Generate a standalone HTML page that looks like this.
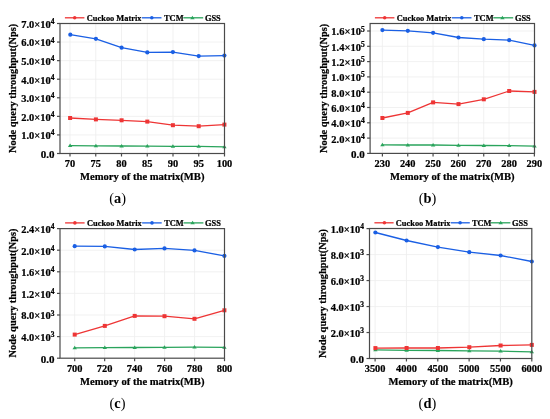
<!DOCTYPE html>
<html><head><meta charset="utf-8"><style>
html,body{margin:0;padding:0;background:#fff;}
svg{display:block;}
text{stroke:#000;stroke-width:0.22px;}
</style></head><body>
<svg width="550" height="419" viewBox="0 0 550 419">
<rect width="550" height="419" fill="#fff"/>
<line x1="70" y1="23.5" x2="70" y2="153.5" stroke="#eeeeee" stroke-width="0.8"/>
<line x1="95.75" y1="23.5" x2="95.75" y2="153.5" stroke="#eeeeee" stroke-width="0.8"/>
<line x1="121.5" y1="23.5" x2="121.5" y2="153.5" stroke="#eeeeee" stroke-width="0.8"/>
<line x1="147.25" y1="23.5" x2="147.25" y2="153.5" stroke="#eeeeee" stroke-width="0.8"/>
<line x1="173" y1="23.5" x2="173" y2="153.5" stroke="#eeeeee" stroke-width="0.8"/>
<line x1="198.75" y1="23.5" x2="198.75" y2="153.5" stroke="#eeeeee" stroke-width="0.8"/>
<line x1="224.5" y1="23.5" x2="224.5" y2="153.5" stroke="#eeeeee" stroke-width="0.8"/>
<line x1="60" y1="134.93" x2="224.5" y2="134.93" stroke="#eeeeee" stroke-width="0.8"/>
<line x1="60" y1="116.36" x2="224.5" y2="116.36" stroke="#eeeeee" stroke-width="0.8"/>
<line x1="60" y1="97.79" x2="224.5" y2="97.79" stroke="#eeeeee" stroke-width="0.8"/>
<line x1="60" y1="79.21" x2="224.5" y2="79.21" stroke="#eeeeee" stroke-width="0.8"/>
<line x1="60" y1="60.64" x2="224.5" y2="60.64" stroke="#eeeeee" stroke-width="0.8"/>
<line x1="60" y1="42.07" x2="224.5" y2="42.07" stroke="#eeeeee" stroke-width="0.8"/>
<line x1="60" y1="23.5" x2="224.5" y2="23.5" stroke="#eeeeee" stroke-width="0.8"/>
<polyline points="70.1,145.6 95.9,145.8 121.6,146 147.3,146.2 172.9,146.4 198.7,146.4 224.4,146.9" fill="none" stroke="#2aa45c" stroke-width="1.3" stroke-linejoin="round"/>
<path d="M70.1 143.5L72.3 147L67.9 147Z" fill="#2aa45c"/>
<path d="M95.9 143.7L98.1 147.2L93.7 147.2Z" fill="#2aa45c"/>
<path d="M121.6 143.9L123.8 147.4L119.4 147.4Z" fill="#2aa45c"/>
<path d="M147.3 144.1L149.5 147.6L145.1 147.6Z" fill="#2aa45c"/>
<path d="M172.9 144.3L175.1 147.8L170.7 147.8Z" fill="#2aa45c"/>
<path d="M198.7 144.3L200.9 147.8L196.5 147.8Z" fill="#2aa45c"/>
<path d="M224.4 144.8L226.6 148.3L222.2 148.3Z" fill="#2aa45c"/>
<polyline points="70.1,118 95.9,119.4 121.6,120.3 147.3,121.6 172.9,125.2 198.7,126.2 224.4,124.6" fill="none" stroke="#ee3535" stroke-width="1.3" stroke-linejoin="round"/>
<rect x="68.1" y="116" width="4" height="4" fill="#ee3535"/>
<rect x="93.9" y="117.4" width="4" height="4" fill="#ee3535"/>
<rect x="119.6" y="118.3" width="4" height="4" fill="#ee3535"/>
<rect x="145.3" y="119.6" width="4" height="4" fill="#ee3535"/>
<rect x="170.9" y="123.2" width="4" height="4" fill="#ee3535"/>
<rect x="196.7" y="124.2" width="4" height="4" fill="#ee3535"/>
<rect x="222.4" y="122.6" width="4" height="4" fill="#ee3535"/>
<polyline points="70.3,34.7 95.9,38.8 121.6,47.7 147.3,52.4 172.9,52.1 198.7,56.1 224.4,55.6" fill="none" stroke="#1a5fe4" stroke-width="1.3" stroke-linejoin="round"/>
<circle cx="70.3" cy="34.7" r="2.1" fill="#1a5fe4"/>
<circle cx="95.9" cy="38.8" r="2.1" fill="#1a5fe4"/>
<circle cx="121.6" cy="47.7" r="2.1" fill="#1a5fe4"/>
<circle cx="147.3" cy="52.4" r="2.1" fill="#1a5fe4"/>
<circle cx="172.9" cy="52.1" r="2.1" fill="#1a5fe4"/>
<circle cx="198.7" cy="56.1" r="2.1" fill="#1a5fe4"/>
<circle cx="224.4" cy="55.6" r="2.1" fill="#1a5fe4"/>
<rect x="60" y="23.5" width="164.5" height="130" fill="none" stroke="#4a4a4a" stroke-width="1.2"/>
<line x1="70" y1="153.5" x2="70" y2="156.5" stroke="#4a4a4a" stroke-width="1.2"/>
<text x="70" y="167.2" text-anchor="middle" font-size="10.4" font-weight="bold" font-family="Liberation Serif, serif">70</text>
<line x1="95.75" y1="153.5" x2="95.75" y2="156.5" stroke="#4a4a4a" stroke-width="1.2"/>
<text x="95.75" y="167.2" text-anchor="middle" font-size="10.4" font-weight="bold" font-family="Liberation Serif, serif">75</text>
<line x1="121.5" y1="153.5" x2="121.5" y2="156.5" stroke="#4a4a4a" stroke-width="1.2"/>
<text x="121.5" y="167.2" text-anchor="middle" font-size="10.4" font-weight="bold" font-family="Liberation Serif, serif">80</text>
<line x1="147.25" y1="153.5" x2="147.25" y2="156.5" stroke="#4a4a4a" stroke-width="1.2"/>
<text x="147.25" y="167.2" text-anchor="middle" font-size="10.4" font-weight="bold" font-family="Liberation Serif, serif">85</text>
<line x1="173" y1="153.5" x2="173" y2="156.5" stroke="#4a4a4a" stroke-width="1.2"/>
<text x="173" y="167.2" text-anchor="middle" font-size="10.4" font-weight="bold" font-family="Liberation Serif, serif">90</text>
<line x1="198.75" y1="153.5" x2="198.75" y2="156.5" stroke="#4a4a4a" stroke-width="1.2"/>
<text x="198.75" y="167.2" text-anchor="middle" font-size="10.4" font-weight="bold" font-family="Liberation Serif, serif">95</text>
<line x1="224.5" y1="153.5" x2="224.5" y2="156.5" stroke="#4a4a4a" stroke-width="1.2"/>
<text x="224.5" y="167.2" text-anchor="middle" font-size="10.4" font-weight="bold" font-family="Liberation Serif, serif">100</text>
<line x1="57" y1="153.5" x2="60" y2="153.5" stroke="#4a4a4a" stroke-width="1.2"/>
<text transform="translate(54.6,157.9) scale(1.1,1)" text-anchor="end" font-size="10" font-weight="bold" font-family="Liberation Serif, serif">0.0</text>
<line x1="57" y1="134.93" x2="60" y2="134.93" stroke="#4a4a4a" stroke-width="1.2"/>
<text transform="translate(54.6,139.33) scale(1.05,1)" text-anchor="end" font-size="10" font-weight="bold" font-family="Liberation Serif, serif">1.0×10<tspan font-size="7.2" dy="-3.9">4</tspan></text>
<line x1="57" y1="116.36" x2="60" y2="116.36" stroke="#4a4a4a" stroke-width="1.2"/>
<text transform="translate(54.6,120.76) scale(1.05,1)" text-anchor="end" font-size="10" font-weight="bold" font-family="Liberation Serif, serif">2.0×10<tspan font-size="7.2" dy="-3.9">4</tspan></text>
<line x1="57" y1="97.79" x2="60" y2="97.79" stroke="#4a4a4a" stroke-width="1.2"/>
<text transform="translate(54.6,102.19) scale(1.05,1)" text-anchor="end" font-size="10" font-weight="bold" font-family="Liberation Serif, serif">3.0×10<tspan font-size="7.2" dy="-3.9">4</tspan></text>
<line x1="57" y1="79.21" x2="60" y2="79.21" stroke="#4a4a4a" stroke-width="1.2"/>
<text transform="translate(54.6,83.61) scale(1.05,1)" text-anchor="end" font-size="10" font-weight="bold" font-family="Liberation Serif, serif">4.0×10<tspan font-size="7.2" dy="-3.9">4</tspan></text>
<line x1="57" y1="60.64" x2="60" y2="60.64" stroke="#4a4a4a" stroke-width="1.2"/>
<text transform="translate(54.6,65.04) scale(1.05,1)" text-anchor="end" font-size="10" font-weight="bold" font-family="Liberation Serif, serif">5.0×10<tspan font-size="7.2" dy="-3.9">4</tspan></text>
<line x1="57" y1="42.07" x2="60" y2="42.07" stroke="#4a4a4a" stroke-width="1.2"/>
<text transform="translate(54.6,46.47) scale(1.05,1)" text-anchor="end" font-size="10" font-weight="bold" font-family="Liberation Serif, serif">6.0×10<tspan font-size="7.2" dy="-3.9">4</tspan></text>
<line x1="57" y1="23.5" x2="60" y2="23.5" stroke="#4a4a4a" stroke-width="1.2"/>
<text transform="translate(54.6,27.9) scale(1.05,1)" text-anchor="end" font-size="10" font-weight="bold" font-family="Liberation Serif, serif">7.0×10<tspan font-size="7.2" dy="-3.9">4</tspan></text>
<text transform="translate(16.2,88.4) rotate(-90)" text-anchor="middle" font-size="10.4" font-weight="bold" font-family="Liberation Serif, serif">Node query throughput(Nps)</text>
<text x="142.25" y="180.3" text-anchor="middle" font-size="10.6" font-weight="bold" font-family="Liberation Serif, serif">Memory of the matrix(MB)</text>
<text x="117.6" y="203.4" text-anchor="middle" font-size="14.4" font-family="Liberation Serif, serif" style="stroke:none">(<tspan font-weight="bold">a</tspan>)</text>
<line x1="64.9" y1="17.8" x2="84.4" y2="17.8" stroke="#ee3535" stroke-width="1.3"/>
<circle cx="74.7" cy="17.8" r="1.78" fill="#ee3535"/>
<text x="86.8" y="20.8" font-size="8.4" font-weight="bold" font-family="Liberation Serif, serif">Cuckoo Matrix</text>
<line x1="141.9" y1="17.8" x2="161.5" y2="17.8" stroke="#1a5fe4" stroke-width="1.3"/>
<circle cx="151.8" cy="17.8" r="1.78" fill="#1a5fe4"/>
<text x="164" y="20.8" font-size="8.4" font-weight="bold" font-family="Liberation Serif, serif">TCM</text>
<line x1="183.3" y1="17.8" x2="203.2" y2="17.8" stroke="#2aa45c" stroke-width="1.3"/>
<path d="M192.4 15.7L194.6 19.2L190.2 19.2Z" fill="#2aa45c"/>
<text x="204.9" y="20.8" font-size="8.4" font-weight="bold" font-family="Liberation Serif, serif">GSS</text>
<line x1="382.4" y1="23.5" x2="382.4" y2="153.4" stroke="#eeeeee" stroke-width="0.8"/>
<line x1="407.73" y1="23.5" x2="407.73" y2="153.4" stroke="#eeeeee" stroke-width="0.8"/>
<line x1="433.06" y1="23.5" x2="433.06" y2="153.4" stroke="#eeeeee" stroke-width="0.8"/>
<line x1="458.39" y1="23.5" x2="458.39" y2="153.4" stroke="#eeeeee" stroke-width="0.8"/>
<line x1="483.72" y1="23.5" x2="483.72" y2="153.4" stroke="#eeeeee" stroke-width="0.8"/>
<line x1="509.05" y1="23.5" x2="509.05" y2="153.4" stroke="#eeeeee" stroke-width="0.8"/>
<line x1="534.38" y1="23.5" x2="534.38" y2="153.4" stroke="#eeeeee" stroke-width="0.8"/>
<line x1="370.1" y1="138.1" x2="534.5" y2="138.1" stroke="#eeeeee" stroke-width="0.8"/>
<line x1="370.1" y1="122.8" x2="534.5" y2="122.8" stroke="#eeeeee" stroke-width="0.8"/>
<line x1="370.1" y1="107.5" x2="534.5" y2="107.5" stroke="#eeeeee" stroke-width="0.8"/>
<line x1="370.1" y1="92.2" x2="534.5" y2="92.2" stroke="#eeeeee" stroke-width="0.8"/>
<line x1="370.1" y1="76.9" x2="534.5" y2="76.9" stroke="#eeeeee" stroke-width="0.8"/>
<line x1="370.1" y1="61.6" x2="534.5" y2="61.6" stroke="#eeeeee" stroke-width="0.8"/>
<line x1="370.1" y1="46.3" x2="534.5" y2="46.3" stroke="#eeeeee" stroke-width="0.8"/>
<line x1="370.1" y1="31" x2="534.5" y2="31" stroke="#eeeeee" stroke-width="0.8"/>
<polyline points="382.4,144.9 407.8,145 433.1,145 458.5,145.3 483.8,145.5 509.2,145.6 534.5,146.2" fill="none" stroke="#2aa45c" stroke-width="1.3" stroke-linejoin="round"/>
<path d="M382.4 142.8L384.6 146.3L380.2 146.3Z" fill="#2aa45c"/>
<path d="M407.8 142.9L410 146.4L405.6 146.4Z" fill="#2aa45c"/>
<path d="M433.1 142.9L435.3 146.4L430.9 146.4Z" fill="#2aa45c"/>
<path d="M458.5 143.2L460.7 146.7L456.3 146.7Z" fill="#2aa45c"/>
<path d="M483.8 143.4L486 146.9L481.6 146.9Z" fill="#2aa45c"/>
<path d="M509.2 143.5L511.4 147L507 147Z" fill="#2aa45c"/>
<path d="M534.5 144.1L536.7 147.6L532.3 147.6Z" fill="#2aa45c"/>
<polyline points="382.4,118 407.8,112.9 433.1,102.4 458.5,104.1 483.8,99.3 509.2,91 534.5,91.9" fill="none" stroke="#ee3535" stroke-width="1.3" stroke-linejoin="round"/>
<rect x="380.4" y="116" width="4" height="4" fill="#ee3535"/>
<rect x="405.8" y="110.9" width="4" height="4" fill="#ee3535"/>
<rect x="431.1" y="100.4" width="4" height="4" fill="#ee3535"/>
<rect x="456.5" y="102.1" width="4" height="4" fill="#ee3535"/>
<rect x="481.8" y="97.3" width="4" height="4" fill="#ee3535"/>
<rect x="507.2" y="89" width="4" height="4" fill="#ee3535"/>
<rect x="532.5" y="89.9" width="4" height="4" fill="#ee3535"/>
<polyline points="382.4,30.1 407.8,30.8 433.1,32.8 458.5,37.5 483.8,39.2 509.2,40.2 534.5,45.4" fill="none" stroke="#1a5fe4" stroke-width="1.3" stroke-linejoin="round"/>
<circle cx="382.4" cy="30.1" r="2.1" fill="#1a5fe4"/>
<circle cx="407.8" cy="30.8" r="2.1" fill="#1a5fe4"/>
<circle cx="433.1" cy="32.8" r="2.1" fill="#1a5fe4"/>
<circle cx="458.5" cy="37.5" r="2.1" fill="#1a5fe4"/>
<circle cx="483.8" cy="39.2" r="2.1" fill="#1a5fe4"/>
<circle cx="509.2" cy="40.2" r="2.1" fill="#1a5fe4"/>
<circle cx="534.5" cy="45.4" r="2.1" fill="#1a5fe4"/>
<rect x="370.1" y="23.5" width="164.4" height="129.9" fill="none" stroke="#4a4a4a" stroke-width="1.2"/>
<line x1="382.4" y1="153.4" x2="382.4" y2="156.4" stroke="#4a4a4a" stroke-width="1.2"/>
<text x="382.4" y="167.1" text-anchor="middle" font-size="10.4" font-weight="bold" font-family="Liberation Serif, serif">230</text>
<line x1="407.73" y1="153.4" x2="407.73" y2="156.4" stroke="#4a4a4a" stroke-width="1.2"/>
<text x="407.73" y="167.1" text-anchor="middle" font-size="10.4" font-weight="bold" font-family="Liberation Serif, serif">240</text>
<line x1="433.06" y1="153.4" x2="433.06" y2="156.4" stroke="#4a4a4a" stroke-width="1.2"/>
<text x="433.06" y="167.1" text-anchor="middle" font-size="10.4" font-weight="bold" font-family="Liberation Serif, serif">250</text>
<line x1="458.39" y1="153.4" x2="458.39" y2="156.4" stroke="#4a4a4a" stroke-width="1.2"/>
<text x="458.39" y="167.1" text-anchor="middle" font-size="10.4" font-weight="bold" font-family="Liberation Serif, serif">260</text>
<line x1="483.72" y1="153.4" x2="483.72" y2="156.4" stroke="#4a4a4a" stroke-width="1.2"/>
<text x="483.72" y="167.1" text-anchor="middle" font-size="10.4" font-weight="bold" font-family="Liberation Serif, serif">270</text>
<line x1="509.05" y1="153.4" x2="509.05" y2="156.4" stroke="#4a4a4a" stroke-width="1.2"/>
<text x="509.05" y="167.1" text-anchor="middle" font-size="10.4" font-weight="bold" font-family="Liberation Serif, serif">280</text>
<line x1="534.38" y1="153.4" x2="534.38" y2="156.4" stroke="#4a4a4a" stroke-width="1.2"/>
<text x="534.38" y="167.1" text-anchor="middle" font-size="10.4" font-weight="bold" font-family="Liberation Serif, serif">290</text>
<line x1="367.1" y1="153.4" x2="370.1" y2="153.4" stroke="#4a4a4a" stroke-width="1.2"/>
<text transform="translate(364.7,157.8) scale(1.1,1)" text-anchor="end" font-size="10" font-weight="bold" font-family="Liberation Serif, serif">0.0</text>
<line x1="367.1" y1="138.1" x2="370.1" y2="138.1" stroke="#4a4a4a" stroke-width="1.2"/>
<text transform="translate(364.7,142.5) scale(1.05,1)" text-anchor="end" font-size="10" font-weight="bold" font-family="Liberation Serif, serif">2.0×10<tspan font-size="7.2" dy="-3.9">4</tspan></text>
<line x1="367.1" y1="122.8" x2="370.1" y2="122.8" stroke="#4a4a4a" stroke-width="1.2"/>
<text transform="translate(364.7,127.2) scale(1.05,1)" text-anchor="end" font-size="10" font-weight="bold" font-family="Liberation Serif, serif">4.0×10<tspan font-size="7.2" dy="-3.9">4</tspan></text>
<line x1="367.1" y1="107.5" x2="370.1" y2="107.5" stroke="#4a4a4a" stroke-width="1.2"/>
<text transform="translate(364.7,111.9) scale(1.05,1)" text-anchor="end" font-size="10" font-weight="bold" font-family="Liberation Serif, serif">6.0×10<tspan font-size="7.2" dy="-3.9">4</tspan></text>
<line x1="367.1" y1="92.2" x2="370.1" y2="92.2" stroke="#4a4a4a" stroke-width="1.2"/>
<text transform="translate(364.7,96.6) scale(1.05,1)" text-anchor="end" font-size="10" font-weight="bold" font-family="Liberation Serif, serif">8.0×10<tspan font-size="7.2" dy="-3.9">4</tspan></text>
<line x1="367.1" y1="76.9" x2="370.1" y2="76.9" stroke="#4a4a4a" stroke-width="1.2"/>
<text transform="translate(364.7,81.3) scale(1.05,1)" text-anchor="end" font-size="10" font-weight="bold" font-family="Liberation Serif, serif">1.0×10<tspan font-size="7.2" dy="-3.9">5</tspan></text>
<line x1="367.1" y1="61.6" x2="370.1" y2="61.6" stroke="#4a4a4a" stroke-width="1.2"/>
<text transform="translate(364.7,66) scale(1.05,1)" text-anchor="end" font-size="10" font-weight="bold" font-family="Liberation Serif, serif">1.2×10<tspan font-size="7.2" dy="-3.9">5</tspan></text>
<line x1="367.1" y1="46.3" x2="370.1" y2="46.3" stroke="#4a4a4a" stroke-width="1.2"/>
<text transform="translate(364.7,50.7) scale(1.05,1)" text-anchor="end" font-size="10" font-weight="bold" font-family="Liberation Serif, serif">1.4×10<tspan font-size="7.2" dy="-3.9">5</tspan></text>
<line x1="367.1" y1="31" x2="370.1" y2="31" stroke="#4a4a4a" stroke-width="1.2"/>
<text transform="translate(364.7,35.4) scale(1.05,1)" text-anchor="end" font-size="10" font-weight="bold" font-family="Liberation Serif, serif">1.6×10<tspan font-size="7.2" dy="-3.9">5</tspan></text>
<text transform="translate(326.8,88.4) rotate(-90)" text-anchor="middle" font-size="10.4" font-weight="bold" font-family="Liberation Serif, serif">Node query throughput(Nps)</text>
<text x="452.3" y="180.3" text-anchor="middle" font-size="10.6" font-weight="bold" font-family="Liberation Serif, serif">Memory of the matrix(MB)</text>
<text x="427.5" y="203.3" text-anchor="middle" font-size="14.4" font-family="Liberation Serif, serif" style="stroke:none">(<tspan font-weight="bold">b</tspan>)</text>
<line x1="374.9" y1="17.8" x2="394.4" y2="17.8" stroke="#ee3535" stroke-width="1.3"/>
<circle cx="384.7" cy="17.8" r="1.78" fill="#ee3535"/>
<text x="396.8" y="20.8" font-size="8.4" font-weight="bold" font-family="Liberation Serif, serif">Cuckoo Matrix</text>
<line x1="451.9" y1="17.8" x2="471.5" y2="17.8" stroke="#1a5fe4" stroke-width="1.3"/>
<circle cx="461.8" cy="17.8" r="1.78" fill="#1a5fe4"/>
<text x="474" y="20.8" font-size="8.4" font-weight="bold" font-family="Liberation Serif, serif">TCM</text>
<line x1="493.3" y1="17.8" x2="513.2" y2="17.8" stroke="#2aa45c" stroke-width="1.3"/>
<path d="M502.4 15.7L504.6 19.2L500.2 19.2Z" fill="#2aa45c"/>
<text x="514.9" y="20.8" font-size="8.4" font-weight="bold" font-family="Liberation Serif, serif">GSS</text>
<line x1="74.7" y1="228.6" x2="74.7" y2="358.2" stroke="#eeeeee" stroke-width="0.8"/>
<line x1="104.66" y1="228.6" x2="104.66" y2="358.2" stroke="#eeeeee" stroke-width="0.8"/>
<line x1="134.62" y1="228.6" x2="134.62" y2="358.2" stroke="#eeeeee" stroke-width="0.8"/>
<line x1="164.58" y1="228.6" x2="164.58" y2="358.2" stroke="#eeeeee" stroke-width="0.8"/>
<line x1="194.54" y1="228.6" x2="194.54" y2="358.2" stroke="#eeeeee" stroke-width="0.8"/>
<line x1="224.5" y1="228.6" x2="224.5" y2="358.2" stroke="#eeeeee" stroke-width="0.8"/>
<line x1="60" y1="336.6" x2="224.5" y2="336.6" stroke="#eeeeee" stroke-width="0.8"/>
<line x1="60" y1="315" x2="224.5" y2="315" stroke="#eeeeee" stroke-width="0.8"/>
<line x1="60" y1="293.4" x2="224.5" y2="293.4" stroke="#eeeeee" stroke-width="0.8"/>
<line x1="60" y1="271.8" x2="224.5" y2="271.8" stroke="#eeeeee" stroke-width="0.8"/>
<line x1="60" y1="250.2" x2="224.5" y2="250.2" stroke="#eeeeee" stroke-width="0.8"/>
<line x1="60" y1="228.6" x2="224.5" y2="228.6" stroke="#eeeeee" stroke-width="0.8"/>
<polyline points="74.7,347.8 104.8,347.7 134.7,347.5 164.5,347.4 194.5,347.2 224.4,347.3" fill="none" stroke="#2aa45c" stroke-width="1.3" stroke-linejoin="round"/>
<path d="M74.7 345.7L76.9 349.2L72.5 349.2Z" fill="#2aa45c"/>
<path d="M104.8 345.6L107 349.1L102.6 349.1Z" fill="#2aa45c"/>
<path d="M134.7 345.4L136.9 348.9L132.5 348.9Z" fill="#2aa45c"/>
<path d="M164.5 345.3L166.7 348.8L162.3 348.8Z" fill="#2aa45c"/>
<path d="M194.5 345.1L196.7 348.6L192.3 348.6Z" fill="#2aa45c"/>
<path d="M224.4 345.2L226.6 348.7L222.2 348.7Z" fill="#2aa45c"/>
<polyline points="74.7,334.6 104.8,325.9 134.7,315.9 164.5,316.2 194.5,318.8 224.4,310.3" fill="none" stroke="#ee3535" stroke-width="1.3" stroke-linejoin="round"/>
<rect x="72.7" y="332.6" width="4" height="4" fill="#ee3535"/>
<rect x="102.8" y="323.9" width="4" height="4" fill="#ee3535"/>
<rect x="132.7" y="313.9" width="4" height="4" fill="#ee3535"/>
<rect x="162.5" y="314.2" width="4" height="4" fill="#ee3535"/>
<rect x="192.5" y="316.8" width="4" height="4" fill="#ee3535"/>
<rect x="222.4" y="308.3" width="4" height="4" fill="#ee3535"/>
<polyline points="74.7,246.2 104.8,246.4 134.7,249.5 164.5,248.4 194.5,250.4 224.4,255.9" fill="none" stroke="#1a5fe4" stroke-width="1.3" stroke-linejoin="round"/>
<circle cx="74.7" cy="246.2" r="2.1" fill="#1a5fe4"/>
<circle cx="104.8" cy="246.4" r="2.1" fill="#1a5fe4"/>
<circle cx="134.7" cy="249.5" r="2.1" fill="#1a5fe4"/>
<circle cx="164.5" cy="248.4" r="2.1" fill="#1a5fe4"/>
<circle cx="194.5" cy="250.4" r="2.1" fill="#1a5fe4"/>
<circle cx="224.4" cy="255.9" r="2.1" fill="#1a5fe4"/>
<rect x="60" y="228.6" width="164.5" height="129.6" fill="none" stroke="#4a4a4a" stroke-width="1.2"/>
<line x1="74.7" y1="358.2" x2="74.7" y2="361.2" stroke="#4a4a4a" stroke-width="1.2"/>
<text x="74.7" y="371.9" text-anchor="middle" font-size="10.4" font-weight="bold" font-family="Liberation Serif, serif">700</text>
<line x1="104.66" y1="358.2" x2="104.66" y2="361.2" stroke="#4a4a4a" stroke-width="1.2"/>
<text x="104.66" y="371.9" text-anchor="middle" font-size="10.4" font-weight="bold" font-family="Liberation Serif, serif">720</text>
<line x1="134.62" y1="358.2" x2="134.62" y2="361.2" stroke="#4a4a4a" stroke-width="1.2"/>
<text x="134.62" y="371.9" text-anchor="middle" font-size="10.4" font-weight="bold" font-family="Liberation Serif, serif">740</text>
<line x1="164.58" y1="358.2" x2="164.58" y2="361.2" stroke="#4a4a4a" stroke-width="1.2"/>
<text x="164.58" y="371.9" text-anchor="middle" font-size="10.4" font-weight="bold" font-family="Liberation Serif, serif">760</text>
<line x1="194.54" y1="358.2" x2="194.54" y2="361.2" stroke="#4a4a4a" stroke-width="1.2"/>
<text x="194.54" y="371.9" text-anchor="middle" font-size="10.4" font-weight="bold" font-family="Liberation Serif, serif">780</text>
<line x1="224.5" y1="358.2" x2="224.5" y2="361.2" stroke="#4a4a4a" stroke-width="1.2"/>
<text x="224.5" y="371.9" text-anchor="middle" font-size="10.4" font-weight="bold" font-family="Liberation Serif, serif">800</text>
<line x1="57" y1="358.2" x2="60" y2="358.2" stroke="#4a4a4a" stroke-width="1.2"/>
<text transform="translate(54.6,362.6) scale(1.1,1)" text-anchor="end" font-size="10" font-weight="bold" font-family="Liberation Serif, serif">0.0</text>
<line x1="57" y1="336.6" x2="60" y2="336.6" stroke="#4a4a4a" stroke-width="1.2"/>
<text transform="translate(54.6,341) scale(1.05,1)" text-anchor="end" font-size="10" font-weight="bold" font-family="Liberation Serif, serif">4.0×10<tspan font-size="7.2" dy="-3.9">3</tspan></text>
<line x1="57" y1="315" x2="60" y2="315" stroke="#4a4a4a" stroke-width="1.2"/>
<text transform="translate(54.6,319.4) scale(1.05,1)" text-anchor="end" font-size="10" font-weight="bold" font-family="Liberation Serif, serif">8.0×10<tspan font-size="7.2" dy="-3.9">3</tspan></text>
<line x1="57" y1="293.4" x2="60" y2="293.4" stroke="#4a4a4a" stroke-width="1.2"/>
<text transform="translate(54.6,297.8) scale(1.05,1)" text-anchor="end" font-size="10" font-weight="bold" font-family="Liberation Serif, serif">1.2×10<tspan font-size="7.2" dy="-3.9">4</tspan></text>
<line x1="57" y1="271.8" x2="60" y2="271.8" stroke="#4a4a4a" stroke-width="1.2"/>
<text transform="translate(54.6,276.2) scale(1.05,1)" text-anchor="end" font-size="10" font-weight="bold" font-family="Liberation Serif, serif">1.6×10<tspan font-size="7.2" dy="-3.9">4</tspan></text>
<line x1="57" y1="250.2" x2="60" y2="250.2" stroke="#4a4a4a" stroke-width="1.2"/>
<text transform="translate(54.6,254.6) scale(1.05,1)" text-anchor="end" font-size="10" font-weight="bold" font-family="Liberation Serif, serif">2.0×10<tspan font-size="7.2" dy="-3.9">4</tspan></text>
<line x1="57" y1="228.6" x2="60" y2="228.6" stroke="#4a4a4a" stroke-width="1.2"/>
<text transform="translate(54.6,233) scale(1.05,1)" text-anchor="end" font-size="10" font-weight="bold" font-family="Liberation Serif, serif">2.4×10<tspan font-size="7.2" dy="-3.9">4</tspan></text>
<text transform="translate(16,293) rotate(-90)" text-anchor="middle" font-size="10.4" font-weight="bold" font-family="Liberation Serif, serif">Node query throughput(Nps)</text>
<text x="142.25" y="385.4" text-anchor="middle" font-size="10.6" font-weight="bold" font-family="Liberation Serif, serif">Memory of the matrix(MB)</text>
<text x="117.5" y="407.9" text-anchor="middle" font-size="14.4" font-family="Liberation Serif, serif" style="stroke:none">(<tspan font-weight="bold">c</tspan>)</text>
<line x1="65.1" y1="222.9" x2="84.6" y2="222.9" stroke="#ee3535" stroke-width="1.3"/>
<circle cx="74.9" cy="222.9" r="1.78" fill="#ee3535"/>
<text x="87" y="225.9" font-size="8.4" font-weight="bold" font-family="Liberation Serif, serif">Cuckoo Matrix</text>
<line x1="142.1" y1="222.9" x2="161.7" y2="222.9" stroke="#1a5fe4" stroke-width="1.3"/>
<circle cx="152" cy="222.9" r="1.78" fill="#1a5fe4"/>
<text x="164.2" y="225.9" font-size="8.4" font-weight="bold" font-family="Liberation Serif, serif">TCM</text>
<line x1="183.5" y1="222.9" x2="203.4" y2="222.9" stroke="#2aa45c" stroke-width="1.3"/>
<path d="M192.6 220.8L194.8 224.3L190.4 224.3Z" fill="#2aa45c"/>
<text x="205.1" y="225.9" font-size="8.4" font-weight="bold" font-family="Liberation Serif, serif">GSS</text>
<line x1="375.1" y1="228.5" x2="375.1" y2="358.5" stroke="#eeeeee" stroke-width="0.8"/>
<line x1="406.44" y1="228.5" x2="406.44" y2="358.5" stroke="#eeeeee" stroke-width="0.8"/>
<line x1="437.78" y1="228.5" x2="437.78" y2="358.5" stroke="#eeeeee" stroke-width="0.8"/>
<line x1="469.12" y1="228.5" x2="469.12" y2="358.5" stroke="#eeeeee" stroke-width="0.8"/>
<line x1="500.46" y1="228.5" x2="500.46" y2="358.5" stroke="#eeeeee" stroke-width="0.8"/>
<line x1="531.8" y1="228.5" x2="531.8" y2="358.5" stroke="#eeeeee" stroke-width="0.8"/>
<line x1="369.5" y1="332.52" x2="531.8" y2="332.52" stroke="#eeeeee" stroke-width="0.8"/>
<line x1="369.5" y1="306.54" x2="531.8" y2="306.54" stroke="#eeeeee" stroke-width="0.8"/>
<line x1="369.5" y1="280.56" x2="531.8" y2="280.56" stroke="#eeeeee" stroke-width="0.8"/>
<line x1="369.5" y1="254.58" x2="531.8" y2="254.58" stroke="#eeeeee" stroke-width="0.8"/>
<line x1="369.5" y1="228.6" x2="531.8" y2="228.6" stroke="#eeeeee" stroke-width="0.8"/>
<polyline points="375.4,349.9 406.6,350.3 437.9,350.5 469.3,350.9 500.6,351.2 531.8,351.9" fill="none" stroke="#2aa45c" stroke-width="1.3" stroke-linejoin="round"/>
<path d="M375.4 347.8L377.6 351.3L373.2 351.3Z" fill="#2aa45c"/>
<path d="M406.6 348.2L408.8 351.7L404.4 351.7Z" fill="#2aa45c"/>
<path d="M437.9 348.4L440.1 351.9L435.7 351.9Z" fill="#2aa45c"/>
<path d="M469.3 348.8L471.5 352.3L467.1 352.3Z" fill="#2aa45c"/>
<path d="M500.6 349.1L502.8 352.6L498.4 352.6Z" fill="#2aa45c"/>
<path d="M531.8 349.8L534 353.3L529.6 353.3Z" fill="#2aa45c"/>
<polyline points="375.4,348.1 406.6,348 437.9,348 469.3,347.2 500.6,345.5 531.8,344.9" fill="none" stroke="#ee3535" stroke-width="1.3" stroke-linejoin="round"/>
<rect x="373.4" y="346.1" width="4" height="4" fill="#ee3535"/>
<rect x="404.6" y="346" width="4" height="4" fill="#ee3535"/>
<rect x="435.9" y="346" width="4" height="4" fill="#ee3535"/>
<rect x="467.3" y="345.2" width="4" height="4" fill="#ee3535"/>
<rect x="498.6" y="343.5" width="4" height="4" fill="#ee3535"/>
<rect x="529.8" y="342.9" width="4" height="4" fill="#ee3535"/>
<polyline points="375.4,232.5 406.6,240.5 437.9,247.1 469.3,252.2 500.6,255.5 531.8,261.5" fill="none" stroke="#1a5fe4" stroke-width="1.3" stroke-linejoin="round"/>
<circle cx="375.4" cy="232.5" r="2.1" fill="#1a5fe4"/>
<circle cx="406.6" cy="240.5" r="2.1" fill="#1a5fe4"/>
<circle cx="437.9" cy="247.1" r="2.1" fill="#1a5fe4"/>
<circle cx="469.3" cy="252.2" r="2.1" fill="#1a5fe4"/>
<circle cx="500.6" cy="255.5" r="2.1" fill="#1a5fe4"/>
<circle cx="531.8" cy="261.5" r="2.1" fill="#1a5fe4"/>
<rect x="369.5" y="228.5" width="162.3" height="130" fill="none" stroke="#4a4a4a" stroke-width="1.2"/>
<line x1="375.1" y1="358.5" x2="375.1" y2="361.5" stroke="#4a4a4a" stroke-width="1.2"/>
<text x="375.1" y="372.2" text-anchor="middle" font-size="10.4" font-weight="bold" font-family="Liberation Serif, serif">3500</text>
<line x1="406.44" y1="358.5" x2="406.44" y2="361.5" stroke="#4a4a4a" stroke-width="1.2"/>
<text x="406.44" y="372.2" text-anchor="middle" font-size="10.4" font-weight="bold" font-family="Liberation Serif, serif">4000</text>
<line x1="437.78" y1="358.5" x2="437.78" y2="361.5" stroke="#4a4a4a" stroke-width="1.2"/>
<text x="437.78" y="372.2" text-anchor="middle" font-size="10.4" font-weight="bold" font-family="Liberation Serif, serif">4500</text>
<line x1="469.12" y1="358.5" x2="469.12" y2="361.5" stroke="#4a4a4a" stroke-width="1.2"/>
<text x="469.12" y="372.2" text-anchor="middle" font-size="10.4" font-weight="bold" font-family="Liberation Serif, serif">5000</text>
<line x1="500.46" y1="358.5" x2="500.46" y2="361.5" stroke="#4a4a4a" stroke-width="1.2"/>
<text x="500.46" y="372.2" text-anchor="middle" font-size="10.4" font-weight="bold" font-family="Liberation Serif, serif">5500</text>
<line x1="531.8" y1="358.5" x2="531.8" y2="361.5" stroke="#4a4a4a" stroke-width="1.2"/>
<text x="531.8" y="372.2" text-anchor="middle" font-size="10.4" font-weight="bold" font-family="Liberation Serif, serif">6000</text>
<line x1="366.5" y1="358.5" x2="369.5" y2="358.5" stroke="#4a4a4a" stroke-width="1.2"/>
<text transform="translate(364.1,362.9) scale(1.1,1)" text-anchor="end" font-size="10" font-weight="bold" font-family="Liberation Serif, serif">0.0</text>
<line x1="366.5" y1="332.52" x2="369.5" y2="332.52" stroke="#4a4a4a" stroke-width="1.2"/>
<text transform="translate(364.1,336.92) scale(1.05,1)" text-anchor="end" font-size="10" font-weight="bold" font-family="Liberation Serif, serif">2.0×10<tspan font-size="7.2" dy="-3.9">3</tspan></text>
<line x1="366.5" y1="306.54" x2="369.5" y2="306.54" stroke="#4a4a4a" stroke-width="1.2"/>
<text transform="translate(364.1,310.94) scale(1.05,1)" text-anchor="end" font-size="10" font-weight="bold" font-family="Liberation Serif, serif">4.0×10<tspan font-size="7.2" dy="-3.9">3</tspan></text>
<line x1="366.5" y1="280.56" x2="369.5" y2="280.56" stroke="#4a4a4a" stroke-width="1.2"/>
<text transform="translate(364.1,284.96) scale(1.05,1)" text-anchor="end" font-size="10" font-weight="bold" font-family="Liberation Serif, serif">6.0×10<tspan font-size="7.2" dy="-3.9">3</tspan></text>
<line x1="366.5" y1="254.58" x2="369.5" y2="254.58" stroke="#4a4a4a" stroke-width="1.2"/>
<text transform="translate(364.1,258.98) scale(1.05,1)" text-anchor="end" font-size="10" font-weight="bold" font-family="Liberation Serif, serif">8.0×10<tspan font-size="7.2" dy="-3.9">3</tspan></text>
<line x1="366.5" y1="228.6" x2="369.5" y2="228.6" stroke="#4a4a4a" stroke-width="1.2"/>
<text transform="translate(364.1,233) scale(1.05,1)" text-anchor="end" font-size="10" font-weight="bold" font-family="Liberation Serif, serif">1.0×10<tspan font-size="7.2" dy="-3.9">4</tspan></text>
<text transform="translate(326.2,293.5) rotate(-90)" text-anchor="middle" font-size="10.4" font-weight="bold" font-family="Liberation Serif, serif">Node query throughput(Nps)</text>
<text x="450.65" y="385.4" text-anchor="middle" font-size="10.6" font-weight="bold" font-family="Liberation Serif, serif">Memory of the matrix(MB)</text>
<text x="427.4" y="407.9" text-anchor="middle" font-size="14.4" font-family="Liberation Serif, serif" style="stroke:none">(<tspan font-weight="bold">d</tspan>)</text>
<line x1="374.4" y1="222.8" x2="393.6" y2="222.8" stroke="#ee3535" stroke-width="1.3"/>
<circle cx="384.4" cy="222.8" r="1.78" fill="#ee3535"/>
<text x="395.8" y="225.8" font-size="8.4" font-weight="bold" font-family="Liberation Serif, serif">Cuckoo Matrix</text>
<line x1="450.8" y1="222.8" x2="469.8" y2="222.8" stroke="#1a5fe4" stroke-width="1.3"/>
<circle cx="460.1" cy="222.8" r="1.78" fill="#1a5fe4"/>
<text x="471.9" y="225.8" font-size="8.4" font-weight="bold" font-family="Liberation Serif, serif">TCM</text>
<line x1="490.8" y1="222.8" x2="510.4" y2="222.8" stroke="#2aa45c" stroke-width="1.3"/>
<path d="M500.7 220.7L502.9 224.2L498.5 224.2Z" fill="#2aa45c"/>
<text x="512" y="225.8" font-size="8.4" font-weight="bold" font-family="Liberation Serif, serif">GSS</text>
</svg>
</body></html>
